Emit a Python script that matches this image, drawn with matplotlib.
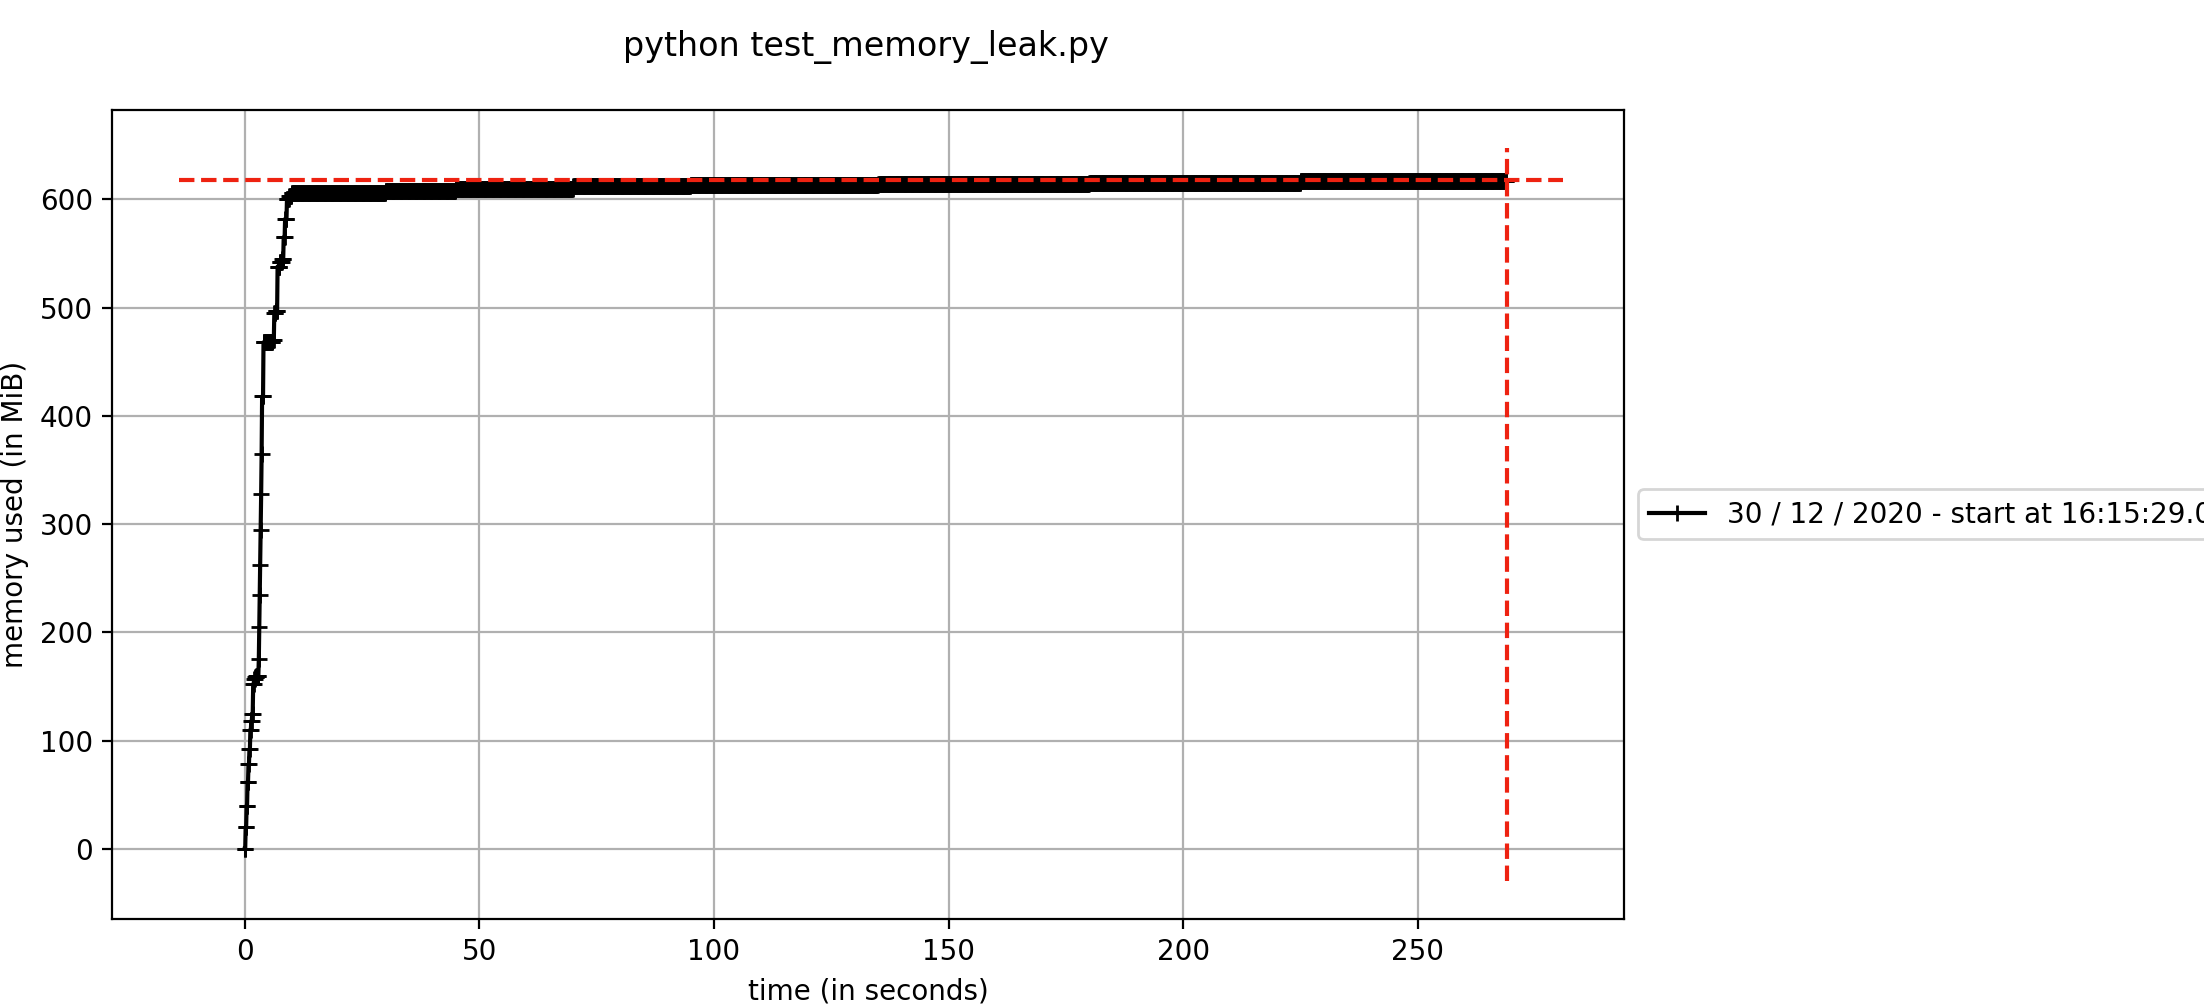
import numpy as np
import matplotlib
matplotlib.use("Agg")
import matplotlib.pyplot as plt

# Sampled memory usage (step levels: start time -> MiB)
step_times = [0.0, 0.2, 0.4, 0.6, 0.8, 1.0, 1.2, 1.4, 1.6, 1.8, 2.0, 2.2, 2.5,
              3.0, 3.1, 3.2, 3.3, 3.4, 3.5, 3.6, 3.7, 4.0, 6.0, 6.3, 6.6,
              7.0, 7.5, 8.0, 8.3, 8.6, 9.0, 9.5, 10.0, 30.0, 45.0, 70.0,
              95.0, 135.0, 180.0, 225.0]
step_mem = [0, 20, 40, 62, 78, 92, 110, 118, 125, 152, 157, 159, 160,
            175, 205, 235, 262, 295, 328, 365, 418, 468, 470, 495, 497,
            538, 542, 545, 565, 582, 600, 603, 606, 608, 610, 612,
            613, 614, 615, 617]
sample_interval = 0.1
t_end = 268.9
peak_mem = 618.0
peak_time = 269.0

t = np.arange(0, t_end, sample_interval)
idx = np.searchsorted(step_times, t, side="right") - 1
mem = np.array(step_mem)[idx]

fig = plt.figure(figsize=(11.02, 5.03), dpi=200)
ax = fig.add_axes([0.051, 0.0865, 0.686, 0.8045])
ax.plot(t, mem, "+-", color="black",
        label="30 / 12 / 2020 - start at 16:15:29.070")
ax.hlines(peak_mem, -14, 281, colors="#ee2211", linestyles="dashed")
ax.vlines(peak_time, -30, 648, colors="#ee2211", linestyles="dashed")
ax.set_xlim(-28.2, 294)
ax.set_ylim(-64.8, 683)
ax.set_xticks([0, 50, 100, 150, 200, 250])
ax.set_yticks([0, 100, 200, 300, 400, 500, 600])
ax.grid(True)
ax.set_xlabel("time (in seconds)")
ax.set_ylabel("memory used (in MiB)")
ax.legend(loc="center left", bbox_to_anchor=(1, 0.5))
fig.suptitle("python test_memory_leak.py", x=0.393, y=0.97)
fig.savefig("out.png", dpi=200)
